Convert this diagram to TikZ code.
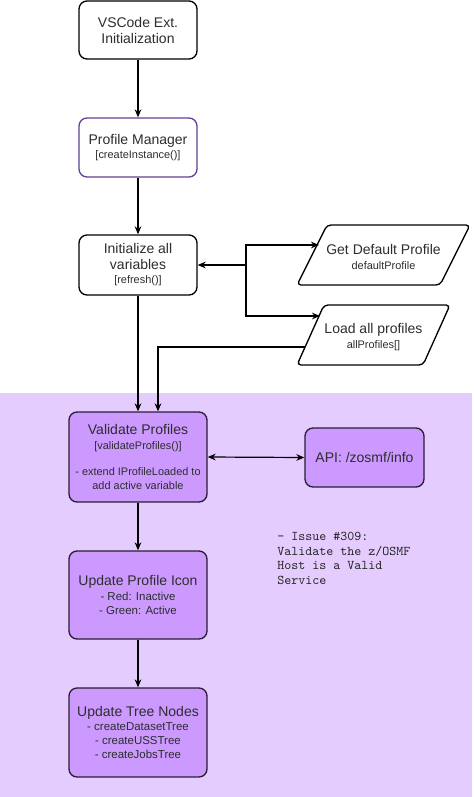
\documentclass[tikz,border=0pt]{standalone}
\usepackage{fontspec}
\setmainfont{Liberation Sans}
\usetikzlibrary{arrows.meta}
\definecolor{bgpurple}{RGB}{229,204,255}
\definecolor{boxpurple}{RGB}{204,153,255}
\definecolor{pmstroke}{RGB}{96,64,150}
\definecolor{darkstroke}{RGB}{40,30,50}
\definecolor{txtgray}{RGB}{45,45,45}
\newcommand{\tfont}{\fontsize{10.5}{12}\selectfont}
\newcommand{\sfont}{\fontsize{8.2}{10.5}\selectfont}
\newcommand{\ifont}{\fontsize{8.6}{10.5}\selectfont}
\begin{document}
\begin{tikzpicture}[x=0.75pt,y=-0.75pt,
  base/.style={rectangle, rounded corners=6pt, line width=1pt, align=center, text=txtgray, font=\sfont, inner sep=2pt},
  whitebox/.style={base, draw=black, fill=white, minimum width=88.5pt},
  purplebox/.style={base, draw=darkstroke, fill=boxpurple, minimum width=103.5pt},
  itembox/.style={purplebox, font=\ifont},
  para/.style={draw=black, fill=white, line width=1pt, rounded corners=3pt},
  ptext/.style={align=center, text=txtgray, font=\sfont, inner sep=0pt},
  arr/.style={-{Stealth[length=6pt,width=5pt]}, line width=0.9pt, black},
  dblarr/.style={{Stealth[length=6pt,width=5pt]}-{Stealth[length=6pt,width=5pt]}, line width=0.9pt, black}
]
\useasboundingbox (0,0) rectangle (474,797);
% background region
\fill[bgpurple] (0,393) rectangle (472,797);

% nodes
\node[whitebox, minimum height=43.5pt] (init) at (138,30) {{\tfont VSCode Ext.}\\[1.5pt]{\tfont Initialization}};
\node[whitebox, draw=pmstroke, minimum height=44.25pt] (pm) at (138,147.5) {{\tfont Profile Manager}\\[0.5pt][createInstance()]};
\node[whitebox, minimum height=45pt] (vars) at (138,265) {{\tfont Initialize all}\\[1.5pt]{\tfont variables}\\{}[refresh()]};

% parallelograms
\draw[para] (297,285) -- (327,225) -- (470,225) -- (440,285) -- cycle;
\node[ptext] (gdp) at (383.5,257) {{\tfont Get Default Profile}\\[0.5pt]defaultProfile};
\draw[para] (297,365) -- (324,305) -- (450,305) -- (423,365) -- cycle;
\node[ptext] (lap) at (373.5,337) {{\tfont Load all profiles}\\[0.5pt]allProfiles[]};

\node[purplebox, minimum height=67.5pt] (val) at (138,457) {{\tfont Validate Profiles}\\[0.5pt][validateProfiles()]\\[9pt]- extend IProfileLoaded to\\add active variable};
\node[base, draw=darkstroke, fill=boxpurple, minimum width=89.25pt, minimum height=44.25pt] (api) at (364.5,457.5) {\tfont API: /zosmf/info};
\node[itembox, minimum height=66pt] (upi) at (138,595) {{\tfont Update Profile Icon}\\[0.5pt]- Red: Inactive\\- Green: Active};
\node[itembox, minimum height=66.75pt] (utn) at (138,732.5) {{\tfont Update Tree Nodes}\\[0.5pt]- createDatasetTree\\- createUSSTree\\- createJobsTree};

\node[anchor=north west, align=left, inner sep=0pt, text=black!85, font=\ttfamily\fontsize{10}{10.9}\selectfont] (note) at (277,532) {- Issue \#309:\\Validate the z/OSMF\\Host is a Valid\\Service};

% connector coordinates
\coordinate (J) at (246,265);
\coordinate (gdpin) at (319,245);
\coordinate (lapin) at (320,316);
\coordinate (lapout) at (305,347);

% connectors
\draw[arr] (init) -- (pm);
\draw[arr] (pm) -- (vars);
\draw[arr] (J) -- (vars.east);
\draw[arr] (J) |- (gdpin);
\draw[arr] (J) |- (lapin);
\draw[arr] (vars) -- (val);
\draw[arr] (lapout) -| ([xshift=15pt]val.north);
\draw[dblarr] (val.east) -- (api.west);
\draw[arr] (val) -- (upi);
\draw[arr] (upi) -- (utn);
\end{tikzpicture}
\end{document}
